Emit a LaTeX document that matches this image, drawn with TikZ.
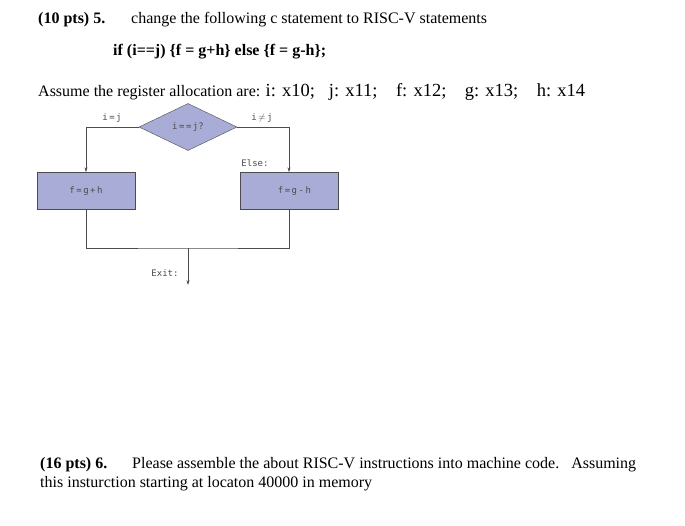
\documentclass[tikz,border=0pt]{standalone}
\usepackage{fontspec}
\setmainfont{Liberation Serif}
\newfontfamily\fcmono{DejaVu Sans Mono}
\usetikzlibrary{shapes.geometric,arrows.meta}
\definecolor{boxfill}{RGB}{168,172,214}
\begin{document}
\begin{tikzpicture}[x=1pt,y=-1pt,
  txt/.style={anchor=west,inner sep=0pt,font=\fontsize{16}{18}\selectfont},
  fbox/.style={draw=black!70,fill=boxfill,minimum width=98pt,minimum height=37pt,inner sep=0pt,font=\fcmono\fontsize{9}{10}\selectfont,text=black!70},
  dia/.style={diamond,aspect=2.1,draw=black!70,fill=boxfill,minimum width=98pt,minimum height=47pt,inner sep=0pt,font=\fcmono\fontsize{9}{10}\selectfont,text=black!70},
  lbl/.style={inner sep=0pt,font=\fcmono\fontsize{9}{10}\selectfont,text=black!70},
  ln/.style={draw=black!70,line width=0.6pt},
  arr/.style={ln,-{Stealth[length=5pt,width=3pt]}}]
\useasboundingbox (0,0) rectangle (685,525);
\fill[white] (0,0) rectangle (685,525);
\node[txt] (t1) at (38,20) {\textbf{(10 pts) 5.}};
\node[txt] (t2) at (131,20) {change the following c statement to RISC-V statements};
\node[txt] (t3) at (113,52) {\textbf{if (i==j) \{f = g+h\} else \{f = g-h\};}};
\node[txt] (t4) at (38,92) {Assume the register allocation are: {\fontsize{18.5}{20}\selectfont i: x10;\ \ \ j: x11;\ \ \ \ f: x12;\ \ \ \ g: x13;\ \ \ \ h: x14}};
\node[dia] (d) at (188,127) {i\,=\,=\,j?};
\node[fbox] (b1) at (86,191) {f\,=\,g\,+\,h};
\node[fbox] (b2) at (289,191) {\ \ f\,=\,g\,-\,h};
\coordinate (j) at (188,248);
\coordinate (ex) at (188,285);
\draw[arr] (d.west) -| (b1.north);
\draw[arr] (d.east) -| (b2.north);
\draw[ln] (b1.south) |- (j) -| (b2.south);
\draw[arr] (j) -- (ex);
\node[lbl] (l1) at (112,118) {i\,=\,j};
\node[lbl] (l2) at (262,118) {i\,$\neq$\,j};
\node[lbl] (l3) at (255,163) {Else:};
\node[lbl] (l4) at (165,273) {Exit:};
\node[txt] (t5) at (40,465) {\textbf{(16 pts) 6.}};
\node[txt] (t6) at (132,465) {Please assemble the about RISC-V instructions into machine code.\ \ \ Assuming};
\node[txt] (t7) at (40,484) {this insturction starting at locaton 40000 in memory};
\end{tikzpicture}
\end{document}
